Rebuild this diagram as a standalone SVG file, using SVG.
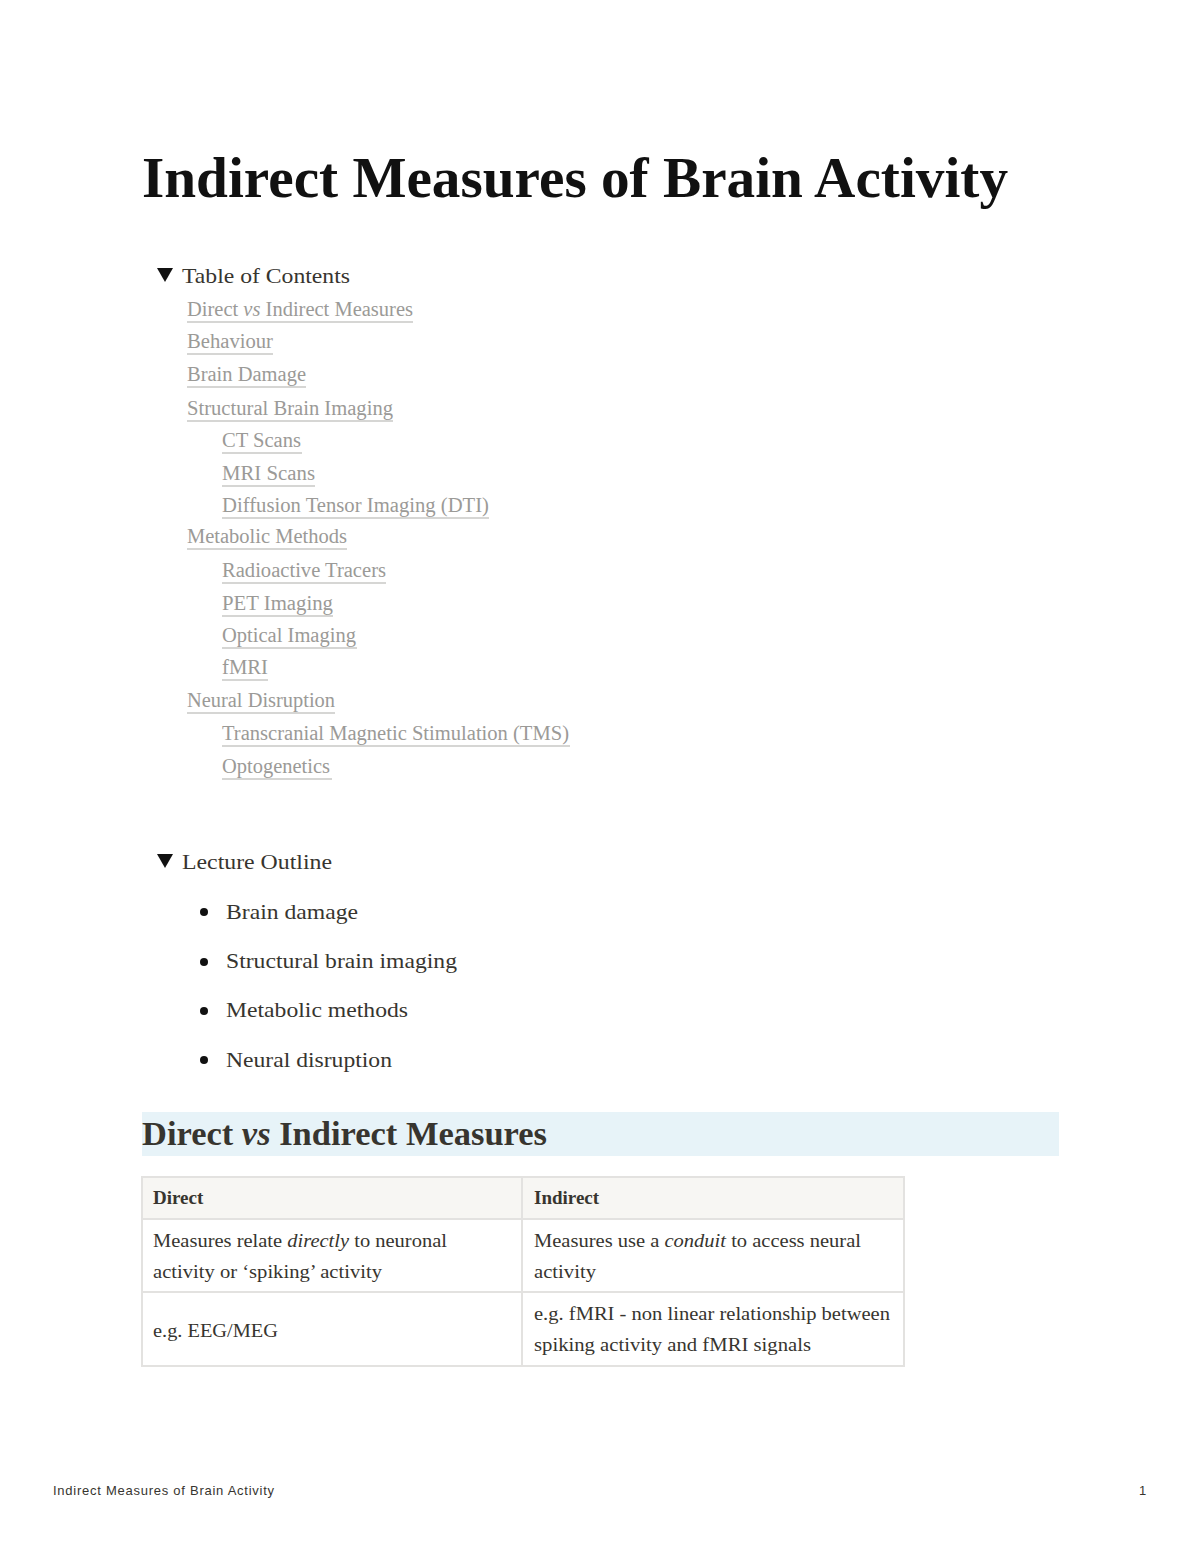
<svg xmlns="http://www.w3.org/2000/svg" width="1200" height="1553" viewBox="0 0 1200 1553">
<style>
text{font-family:"Liberation Serif","DejaVu Serif",serif;fill:#37352f}
.t{font-size:58px;font-weight:bold;fill:#111}
.h{font-size:21px}
.l{font-size:20px;fill:#9b9a97}
.b{font-size:22px}
.c{font-size:19px}
.cb{font-size:19px;font-weight:bold}
.u{stroke:#d6d6d4;stroke-width:2}
.g{stroke:#e3e2e0;stroke-width:2;fill:none}
</style>
<rect width="1200" height="1553" fill="#fff"/>
<text class="t" x="142" y="197" textLength="866" lengthAdjust="spacingAndGlyphs">Indirect Measures of Brain Activity</text>
<g id="toc">
<path d="M157 268h16l-8 14z" fill="#111"/>
<text class="h" x="182" y="283" textLength="168" lengthAdjust="spacingAndGlyphs">Table of Contents</text>
<text class="l" x="187" y="316" textLength="226" lengthAdjust="spacingAndGlyphs">Direct <tspan font-style="italic">vs</tspan> Indirect Measures</text>
<text class="l" x="187" y="348" textLength="86" lengthAdjust="spacingAndGlyphs">Behaviour</text>
<text class="l" x="187" y="381" textLength="119" lengthAdjust="spacingAndGlyphs">Brain Damage</text>
<text class="l" x="187" y="415" textLength="206" lengthAdjust="spacingAndGlyphs">Structural Brain Imaging</text>
<text class="l" x="222" y="447" textLength="79" lengthAdjust="spacingAndGlyphs">CT Scans</text>
<text class="l" x="222" y="480" textLength="93" lengthAdjust="spacingAndGlyphs">MRI Scans</text>
<text class="l" x="222" y="512" textLength="267" lengthAdjust="spacingAndGlyphs">Diffusion Tensor Imaging (DTI)</text>
<text class="l" x="187" y="543" textLength="160" lengthAdjust="spacingAndGlyphs">Metabolic Methods</text>
<text class="l" x="222" y="577" textLength="164" lengthAdjust="spacingAndGlyphs">Radioactive Tracers</text>
<text class="l" x="222" y="610" textLength="111" lengthAdjust="spacingAndGlyphs">PET Imaging</text>
<text class="l" x="222" y="642" textLength="134" lengthAdjust="spacingAndGlyphs">Optical Imaging</text>
<text class="l" x="222" y="674" textLength="46" lengthAdjust="spacingAndGlyphs">fMRI</text>
<text class="l" x="187" y="707" textLength="148" lengthAdjust="spacingAndGlyphs">Neural Disruption</text>
<text class="l" x="222" y="740" textLength="347" lengthAdjust="spacingAndGlyphs">Transcranial Magnetic Stimulation (TMS)</text>
<text class="l" x="222" y="773" textLength="108" lengthAdjust="spacingAndGlyphs">Optogenetics</text>
<path class="u" d="M187 322h226M187 354h86M187 387h119M187 421h206M222 453h80M222 486h93M222 518h267M187 549h160M222 583h164M222 616h111M222 648h135M222 680h46M187 713h148M222 746h348M222 779h110"/>
</g>
<g id="outline">
<path d="M157 854h16l-8 14z" fill="#111"/>
<text class="h" x="182" y="869" textLength="150" lengthAdjust="spacingAndGlyphs">Lecture Outline</text>
<circle cx="204" cy="912" r="4" fill="#111"/>
<circle cx="204" cy="962" r="4" fill="#111"/>
<circle cx="204" cy="1011" r="4" fill="#111"/>
<circle cx="204" cy="1060" r="4" fill="#111"/>
<text class="b" x="226" y="919" textLength="132" lengthAdjust="spacingAndGlyphs">Brain damage</text>
<text class="b" x="226" y="968" textLength="231" lengthAdjust="spacingAndGlyphs">Structural brain imaging</text>
<text class="b" x="226" y="1017" textLength="182" lengthAdjust="spacingAndGlyphs">Metabolic methods</text>
<text class="b" x="226" y="1067" textLength="166" lengthAdjust="spacingAndGlyphs">Neural disruption</text>
</g>
<g id="section">
<rect x="142" y="1112" width="917" height="44" fill="#e7f3f8"/>
<text x="142" y="1145" font-size="33" font-weight="bold" fill="#111" textLength="405" lengthAdjust="spacingAndGlyphs">Direct <tspan font-style="italic">vs</tspan> Indirect Measures</text>
</g>
<g id="table">
<rect x="142" y="1177" width="762" height="42" fill="#f7f6f3"/>
<path class="g" d="M142 1177h762v189H142zM142 1219h762M142 1292h762M522 1177v189"/>
<text class="cb" x="153" y="1204">Direct</text>
<text class="cb" x="534" y="1204">Indirect</text>
<text class="c" x="153" y="1247" textLength="294" lengthAdjust="spacingAndGlyphs">Measures relate <tspan font-style="italic">directly</tspan> to neuronal</text>
<text class="c" x="153" y="1278" textLength="229" lengthAdjust="spacingAndGlyphs">activity or ‘spiking’ activity</text>
<text class="c" x="534" y="1247" textLength="327" lengthAdjust="spacingAndGlyphs">Measures use a <tspan font-style="italic">conduit</tspan> to access neural</text>
<text class="c" x="534" y="1278" textLength="62" lengthAdjust="spacingAndGlyphs">activity</text>
<text class="c" x="153" y="1337" textLength="125" lengthAdjust="spacingAndGlyphs">e.g. EEG/MEG</text>
<text class="c" x="534" y="1320" textLength="356" lengthAdjust="spacingAndGlyphs">e.g. fMRI - non linear relationship between</text>
<text class="c" x="534" y="1351" textLength="277" lengthAdjust="spacingAndGlyphs">spiking activity and fMRI signals</text>
</g>
<text x="53" y="1495" font-size="13" style="font-family:'Liberation Sans',sans-serif" fill="#555" textLength="221">Indirect Measures of Brain Activity</text>
<text x="1139" y="1495" font-size="13" style="font-family:'Liberation Sans',sans-serif" fill="#555">1</text>
</svg>
